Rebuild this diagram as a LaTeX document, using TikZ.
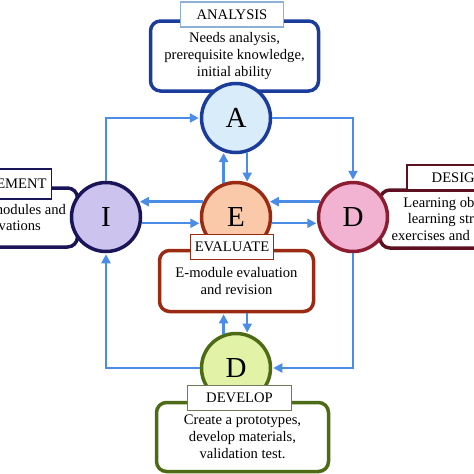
\documentclass[tikz,border=0pt]{standalone}
\usepackage{fontspec}
\setmainfont{Liberation Serif}
\usetikzlibrary{arrows.meta}
\definecolor{aline}{HTML}{1C3C9C}
\definecolor{afill}{HTML}{D8EDF9}
\definecolor{atitle}{HTML}{8DB0D8}
\definecolor{iline}{HTML}{1A1458}
\definecolor{ifill}{HTML}{CCC3EF}
\definecolor{eline}{HTML}{9A2A12}
\definecolor{efill}{HTML}{F9C9A9}
\definecolor{dline}{HTML}{8C1C30}
\definecolor{dfill}{HTML}{F2B2D2}
\definecolor{dbox}{HTML}{5C1020}
\definecolor{vline}{HTML}{4D6B14}
\definecolor{vfill}{HTML}{E2F3A8}
\definecolor{vtitle}{HTML}{707A5A}
\definecolor{flow}{HTML}{4A8CE6}
\begin{document}
\begin{tikzpicture}[x=1pt,y=-1pt,
box/.style={draw,line width=3.5pt,rounded corners=10pt,fill=white,align=center,inner sep=0pt,font=\fontsize{14.6}{16.8}\selectfont},
ttl/.style={draw,line width=1.2pt,fill=white,inner sep=0pt,minimum height=25pt,font=\fontsize{14.6}{16}\selectfont},
phase/.style={circle,draw,line width=3.5pt,inner sep=0pt,minimum size=69pt,font=\fontsize{29}{29}\selectfont},
arr/.style={draw=flow,line width=2.4pt,-{Triangle[length=9pt,width=9pt]},shorten >=1pt}]
\useasboundingbox(0,0)rectangle(474,474);
% upper and side boxes
\node[box,draw=aline,minimum width=168pt,minimum height=70pt](anbox)at(234.5,56){Needs analysis,\\prerequisite knowledge,\\initial ability};
\node[ttl,draw=atitle,minimum width=103pt](antitle)at(232,14.5){ANALYSIS};
\node[box,draw=iline,minimum width=147pt,minimum height=59pt](imbox)at(4,217.5){Using e-modules and\\observations};
\node[ttl,draw=iline,minimum width=95pt,minimum height=30pt](imtitle)at(4,184){IMPLEMENT};
\node[box,draw=dbox,minimum width=166pt,minimum height=58pt](dsbox)at(463,219){Learning objectives,\\learning strategies,\\exercises and evaluation};
\node[ttl,draw=dbox,minimum width=103pt](dstitle)at(458.5,177.5){DESIGN};
% phases
\node[phase,draw=aline,fill=afill](A)at(236,118){A};
\node[phase,draw=iline,fill=ifill](I)at(106,217){I};
\node[phase,draw=eline,fill=efill](E)at(236,217){E};
\node[phase,draw=dline,fill=dfill](D)at(353,217){D};
\node[phase,draw=vline,fill=vfill](Dv)at(236,368){D};
% flow
\draw[arr](I.north)|-(A.west);
\draw[arr](A.east)-|(D.north);
\draw[arr](D.south)|-(Dv.east);
\draw[arr](Dv.west)-|(I.south);
\draw[arr](E.155)--(I.25);
\draw[arr](I.-10)--(E.190);
\draw[arr](D.155)--(E.25);
\draw[arr](E.-10)--(D.190);
\draw[arr](E.110)--(A.250);
\draw[arr](A.288)--(E.72);
% lower boxes
\node[box,draw=eline,minimum width=154pt,minimum height=61pt](evbox)at(236.5,281){E-module evaluation\\and revision};
\node[ttl,draw=eline,minimum width=83pt](evtitle)at(232,247){EVALUATE};
\node[box,draw=vline,minimum width=172pt,minimum height=69pt](dvbox)at(242.5,437){Create a prototypes,\\develop materials,\\validation test.};
\node[ttl,draw=vtitle,minimum width=104pt](dvtitle)at(239.5,398){DEVELOP};
\draw[arr](Dv.110)--(Dv.110|-evbox.south);
\draw[arr](Dv.72|-evbox.south)--(Dv.72);
\end{tikzpicture}
\end{document}
